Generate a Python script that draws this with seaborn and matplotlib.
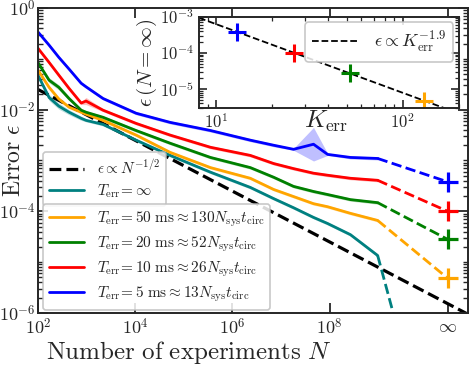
import numpy as np
import pandas as pd
import matplotlib
matplotlib.use("Agg")
import matplotlib.pyplot as plt
import matplotlib.ticker as mticker
import seaborn as sns

# log10(N) where the curves were sampled
LOG_N = [2.00, 2.23, 2.43, 2.64, 2.89, 2.99, 3.34, 4.02, 4.72, 5.55,
         6.37, 6.85, 7.26, 7.67, 7.96, 8.43, 8.99]

# log10(error) per setting
ERR_INF = [-1.32, -1.76, -1.93, -2.05, -2.17, -2.21, -2.29, -2.60, -2.90, -3.23,
           -3.53, -3.75, -3.93, -4.12, -4.24, -4.46, -4.87]
ERR_50 = [-1.22, -1.56, -1.79, -1.95, -2.05, -2.09, -2.21, -2.50, -2.84, -3.14,
          -3.35, -3.57, -3.71, -3.85, -3.91, -4.04, -4.18]
ERR_20 = [-1.07, -1.42, -1.56, -1.78, -2.01, -2.05, -2.15, -2.41, -2.66, -2.94,
          -3.14, -3.33, -3.51, -3.61, -3.67, -3.77, -3.83]
ERR_10 = [-0.79, -1.07, -1.32, -1.58, -1.87, -1.83, -2.01, -2.27, -2.50, -2.74,
          -2.90, -3.06, -3.16, -3.25, -3.29, -3.35, -3.39]
ERR_5 = [-0.47, -0.73, -0.97, -1.20, -1.48, -1.55, -1.78, -2.07, -2.25, -2.41,
         -2.60, -2.70, -2.78, -2.68, -2.88, -2.94, -2.96]

# half width of the shaded spread, in decades
SPREAD_INF = [0.03, 0.06, 0.06, 0.05, 0.04, 0.03, 0.03, 0.03, 0.03, 0.03,
              0.03, 0.03, 0.03, 0.03, 0.03, 0.03, 0.03]
SPREAD_50 = [0.03, 0.04, 0.04, 0.03, 0.03, 0.03, 0.03, 0.03, 0.03, 0.03,
             0.03, 0.03, 0.03, 0.03, 0.03, 0.03, 0.03]
SPREAD_20 = [0.03, 0.05, 0.05, 0.04, 0.03, 0.03, 0.03, 0.03, 0.03, 0.03,
             0.03, 0.03, 0.03, 0.03, 0.03, 0.03, 0.03]
SPREAD_10 = [0.03, 0.03, 0.03, 0.03, 0.03, 0.07, 0.03, 0.03, 0.03, 0.03,
             0.03, 0.03, 0.03, 0.03, 0.03, 0.03, 0.03]
SPREAD_5 = [0.03, 0.03, 0.03, 0.03, 0.03, 0.03, 0.03, 0.03, 0.03, 0.03,
            0.03, 0.03, 0.02, 0.33, 0.02, 0.03, 0.03]

LABELS = [
    r"$T_\mathrm{err}\!=\infty$",
    r"$T_\mathrm{err}\!=50\ \mathrm{ms}\approx 130N_\mathrm{sys}t_\mathrm{circ}$",
    r"$T_\mathrm{err}\!=20\ \mathrm{ms}\approx 52N_\mathrm{sys}t_\mathrm{circ}$",
    r"$T_\mathrm{err}\!=10\ \mathrm{ms}\approx 26N_\mathrm{sys}t_\mathrm{circ}$",
    r"$T_\mathrm{err}\!=5\ \mathrm{ms}\approx 13N_\mathrm{sys}t_\mathrm{circ}$",
]
COLORS = ["#008080", "#ffa500", "#008000", "#ff0000", "#0000ff"]

# extrapolated error at N = infinity vs K_err (inset)
K_ERR = [130, 52, 26, 13]
EPS_AT_INF = [4.8e-6, 2.8e-5, 1.0e-4, 3.8e-4]

SHOT_COEF = 0.25      # eps = SHOT_COEF * N^-1/2
FIT_SLOPE = -1.9
INF_POS = 2.7e10      # where "infinity" sits on the N axis
TEAL_END = (10 ** 9.45, 10 ** -6.5)


def pow10(v, _pos=None):
    return rf"$10^{{{int(round(np.log10(v)))}}}$"


def main():
    sns.set_style("ticks")
    plt.rcParams["mathtext.fontset"] = "cm"
    plt.rcParams["axes.linewidth"] = 1.4

    fig = plt.figure(figsize=(4.74, 3.66), dpi=100)
    ax = fig.add_axes([0.080, 0.145, 0.907, 0.833])
    ax.set_xscale("log")
    ax.set_yscale("log")

    n_vals = 10 ** np.array(LOG_N)
    xline = np.geomspace(1e2, 1e11, 50)
    ax.plot(xline, SHOT_COEF * xline ** -0.5, color="black", ls="--", lw=2.3,
            label=r"$\epsilon\propto N^{-1/2}$")

    curves = [ERR_INF, ERR_50, ERR_20, ERR_10, ERR_5]
    spreads = [SPREAD_INF, SPREAD_50, SPREAD_20, SPREAD_10, SPREAD_5]
    for i, (err, spr) in enumerate(zip(curves, spreads)):
        err = np.array(err)
        spr = np.array(spr)
        df = pd.DataFrame({"N": n_vals, "eps": 10 ** err})
        ax.fill_between(n_vals, 10 ** (err - spr), 10 ** (err + spr),
                        color=COLORS[i], alpha=0.25, lw=0)
        sns.lineplot(data=df, x="N", y="eps", ax=ax, color=COLORS[i], lw=2,
                     label=LABELS[i])
        # dashed extrapolation to N = infinity
        if i == 0:
            ax.plot([n_vals[-1], TEAL_END[0]], [10 ** err[-1], TEAL_END[1]],
                    color=COLORS[i], ls="--", lw=2)
        else:
            eps_inf = EPS_AT_INF[i - 1]
            ax.plot([n_vals[-1], INF_POS], [10 ** err[-1], eps_inf],
                    color=COLORS[i], ls="--", lw=2)
            ax.plot([INF_POS], [eps_inf], marker="+", ms=15, mew=2.3,
                    color=COLORS[i], ls="none")

    ax.set_xlim(1e2, 7e10)
    ax.set_ylim(1e-6, 1)
    ax.xaxis.set_major_locator(mticker.FixedLocator([1e2, 1e4, 1e6, 1e8, INF_POS]))
    ax.xaxis.set_major_formatter(mticker.FixedFormatter(
        [r"$10^{2}$", r"$10^{4}$", r"$10^{6}$", r"$10^{8}$", r"$\infty$"]))
    ax.xaxis.set_minor_locator(mticker.NullLocator())
    ax.yaxis.set_major_locator(mticker.FixedLocator([1e-6, 1e-4, 1e-2, 1]))
    ax.yaxis.set_major_formatter(mticker.FuncFormatter(pow10))
    ax.yaxis.set_minor_locator(mticker.LogLocator(subs=np.arange(1, 10), numticks=30))
    ax.yaxis.set_minor_formatter(mticker.NullFormatter())
    ax.tick_params(which="both", direction="in", top=True, right=True, labelsize=13)
    ax.tick_params(axis="y", pad=1.5)
    ax.tick_params(which="major", length=7, width=1.3)
    ax.tick_params(which="minor", length=3.5, width=1)
    ax.set_xlabel(r"$\mathrm{Number\ of\ experiments}\ N$", fontsize=18)
    ax.xaxis.set_label_coords(0.35, -0.15)
    ax.xaxis.label.set_verticalalignment("baseline")
    ax.set_ylabel(r"$\mathrm{Error}\ \epsilon$", fontsize=17)
    ax.yaxis.set_label_coords(-0.03, 0.5)

    # two stacked legends, as in the original
    handles, labels = ax.get_legend_handles_labels()
    leg_kw = dict(loc="lower left", fontsize=11, handlelength=2.3,
                  labelspacing=0.35, borderaxespad=0, framealpha=0.85,
                  edgecolor="0.75", fancybox=True)
    leg1 = ax.legend(handles[:2], labels[:2], bbox_to_anchor=(0.012, 0.351), **leg_kw)
    leg1.get_frame().set_linewidth(1.2)
    ax.add_artist(leg1)
    leg2 = ax.legend(handles[2:], labels[2:], bbox_to_anchor=(0.012, 0.01), **leg_kw)
    leg2.get_frame().set_linewidth(1.2)

    # inset: error at N = infinity against K_err
    axin = fig.add_axes([0.420, 0.705, 0.548, 0.249])
    axin.set_xscale("log")
    axin.set_yscale("log")
    log_c = np.mean(np.log10(EPS_AT_INF) - FIT_SLOPE * np.log10(K_ERR))
    kline = np.geomspace(8.1, 200, 50)
    axin.plot(kline, 10 ** log_c * kline ** FIT_SLOPE, color="black", ls="--",
              lw=1.3, label=r"$\epsilon\propto K_\mathrm{err}^{-1.9}$")
    for k, e, c in zip(K_ERR, EPS_AT_INF, COLORS[1:]):
        axin.plot([k], [e], marker="+", ms=13, mew=2.2, color=c, ls="none")
    axin.set_xlim(8.1, 200)
    axin.set_ylim(3e-6, 1e-3)
    axin.xaxis.set_major_locator(mticker.FixedLocator([10, 100]))
    axin.xaxis.set_major_formatter(mticker.FuncFormatter(pow10))
    axin.xaxis.set_minor_locator(mticker.LogLocator(subs=np.arange(2, 10), numticks=10))
    axin.xaxis.set_minor_formatter(mticker.NullFormatter())
    axin.yaxis.set_major_locator(mticker.FixedLocator([1e-5, 1e-4, 1e-3]))
    axin.yaxis.set_major_formatter(mticker.FuncFormatter(pow10))
    axin.yaxis.set_minor_locator(mticker.LogLocator(subs=np.arange(2, 10), numticks=10))
    axin.yaxis.set_minor_formatter(mticker.NullFormatter())
    axin.tick_params(which="both", direction="in", top=True, right=True, labelsize=12)
    axin.tick_params(which="major", length=6, width=1.2)
    axin.tick_params(which="minor", length=3, width=0.9)
    # x label of the inset sits level with its tick labels
    axin.text(0.49, -0.215, r"$K_\mathrm{err}$", fontsize=18, ha="center",
              va="baseline", transform=axin.transAxes)
    axin.set_ylabel(r"$\epsilon\,(N=\infty)$", fontsize=15, labelpad=1)
    lin = axin.legend(loc="upper right", fontsize=13, handlelength=2.6,
                      borderaxespad=0.3, framealpha=0.85, edgecolor="0.75")
    lin.get_frame().set_linewidth(1.2)

    fig.savefig("out.png", dpi=100)
    plt.close(fig)


if __name__ == "__main__":
    main()
